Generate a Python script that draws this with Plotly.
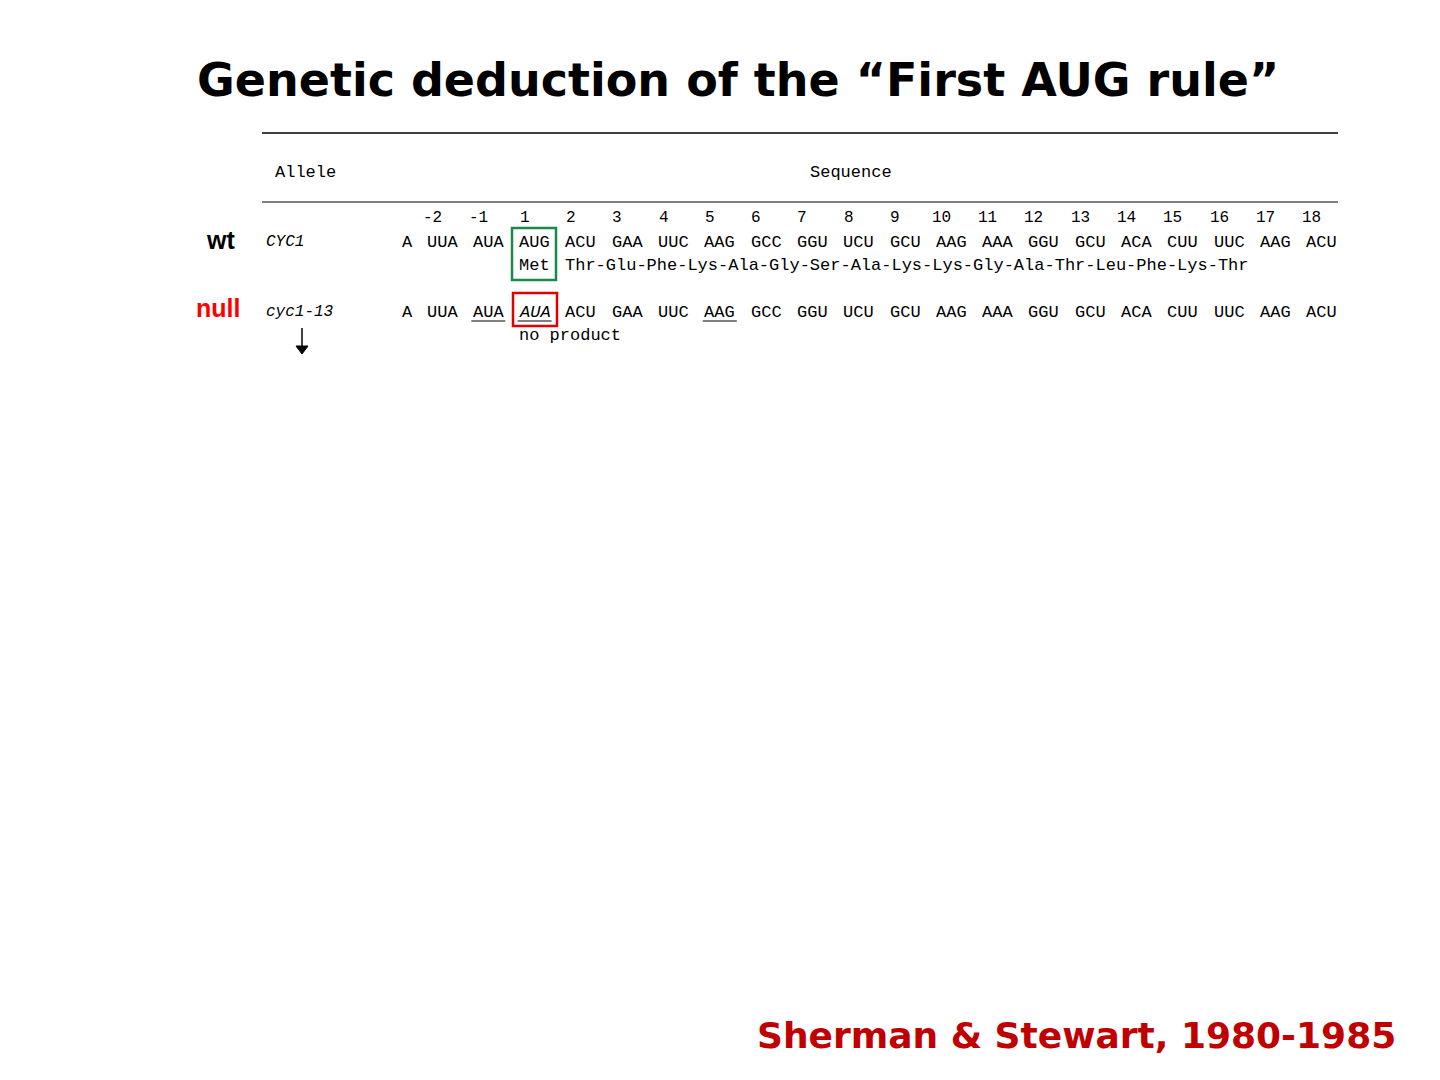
import plotly.graph_objects as go

positions = ["-2","-1","1","2","3","4","5","6","7","8","9","10","11","12","13","14","15","16","17","18"]
wt_codons = ["UUA","AUA","AUG","ACU","GAA","UUC","AAG","GCC","GGU","UCU","GCU","AAG","AAA","GGU","GCU","ACA","CUU","UUC","AAG","ACU"]
mut_codons = ["UUA","AUA","AUA","ACU","GAA","UUC","AAG","GCC","GGU","UCU","GCU","AAG","AAA","GGU","GCU","ACA","CUU","UUC","AAG","ACU"]
underlined = [1, 2, 6]
protein_first = "Met"
protein_rest = "Thr-Glu-Phe-Lys-Ala-Gly-Ser-Ala-Lys-Lys-Gly-Ala-Thr-Leu-Phe-Lys-Thr"

X0, DX = 434, 46.3
cx = [X0 + DX * i for i in range(len(wt_codons))]
MONO = "Liberation Mono"
fig = go.Figure()
anns = []
def t(x, y, s, size=16, color="black", font=MONO, xa="center", **kw):
    anns.append(dict(x=x, y=y, text=s, showarrow=False, xanchor=xa, yanchor="middle",
                     font=dict(family=font, size=size, color=color), **kw))

t(730, 72, "<b>Genetic deduction of the “First AUG rule”</b>", 46, font="DejaVu Sans")
t(1390, 1027, "<b>Sherman & Stewart, 1980-1985</b>", 36, "#c00000", "DejaVu Sans", xa="right")
t(265, 164, "Allele", 17, xa="left")
t(843, 164, "Sequence", 17)
t(212, 232, "<b>wt</b>", 25, font="Liberation Sans")
t(210, 300, "<b>null</b>", 25, "#ff0000", "Liberation Sans")
t(256, 234, "<i>CYC1</i>", 16, xa="left")
t(256, 304, "<i>cyc1-13</i>", 16, xa="left")
t(399, 234, "A", 17)
t(399, 304, "A", 17)
for i, x in enumerate(cx):
    t(x - 10, 210, positions[i], 16)
    t(x, 234, wt_codons[i], 17)
    t(x, 304, "<i>%s</i>" % mut_codons[i] if i == 2 else mut_codons[i], 17)
t(cx[2], 257, protein_first, 17)
t(555, 257, protein_rest, 17, xa="left")
t(509, 327, "no product", 17, xa="left")
fig.update_layout(annotations=anns)

shapes = [
    dict(type="line", x0=254, x1=1330, y0=125, y1=125, line=dict(color="black", width=1.5)),
    dict(type="line", x0=254, x1=1330, y0=194, y1=194, line=dict(color="black", width=1.2)),
    dict(type="rect", x0=504, x1=548, y0=220, y1=272, line=dict(color="#1a8a4a", width=2.5)),
    dict(type="rect", x0=505, x1=549, y0=285, y1=318, line=dict(color="#e00000", width=2.5)),
    dict(type="line", x0=294, x1=294, y0=320, y1=340, line=dict(color="black", width=1.5)),
    dict(type="path", path="M 288 338 L 300 338 L 294 346 Z", fillcolor="black", line=dict(color="black", width=1)),
]
for i in underlined:
    shapes.append(dict(type="line", x0=cx[i]-17, x1=cx[i]+17, y0=313, y1=313, line=dict(color="black", width=1)))
fig.update_layout(shapes=shapes)

fig.update_xaxes(range=[0, 1440], visible=False, fixedrange=True)
fig.update_yaxes(range=[1080, 0], visible=False, fixedrange=True)
fig.update_layout(width=1440, height=1080, margin=dict(l=0, r=0, t=0, b=0),
                  plot_bgcolor="white", paper_bgcolor="white", showlegend=False)
fig.write_html("out.html", config={"displayModeBar": False})
